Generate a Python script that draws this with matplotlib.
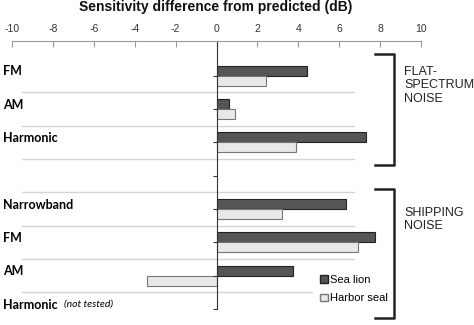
import matplotlib.pyplot as plt
import matplotlib.transforms as mtransforms
import numpy as np
from matplotlib.lines import Line2D
from matplotlib.patches import Patch

# カテゴリ（上から順）
categories = ["FM", "AM", "Harmonic", "", "Narrowband", "FM", "AM", "Harmonic"]
sea_lion = [4.42, 0.6, 7.32, np.nan, 6.34, 7.74, 3.72, np.nan]
harbor_seal = [2.41, 0.91, 3.9, np.nan, 3.2, 6.91, -3.4, np.nan]
xticks = np.arange(-10, 11, 2)

W, H = 474, 325
fig = plt.figure(figsize=(W / 100, H / 100), dpi=100)
ax = fig.add_axes([12 / W, 0, 409 / W, (H - 41) / H])

pos = np.arange(len(categories))
bh = 0.3
ax.barh(pos - bh / 2, sea_lion, height=bh, color="#555555", edgecolor="#222222", linewidth=0.8)
ax.barh(pos + bh / 2, harbor_seal, height=bh, color="#e8e8e8", edgecolor="#777777", linewidth=0.8)

ax.set_xlim(-10, 10)
ax.set_ylim(7.485, -1.04)

# 区切り線
for i in range(len(categories) - 1):
    x_end = 4.68 if i == len(categories) - 2 else 6.7
    ax.plot([-9.5, x_end], [i + 0.5, i + 0.5], color="#d4d4d4", lw=1, zorder=0)

# 上側のx軸
for s in ["bottom", "right"]:
    ax.spines[s].set_visible(False)
ax.spines["top"].set_color("#999999")
ax.spines["left"].set_position(("data", 0))
ax.spines["left"].set_bounds(-1.04, 7)
ax.spines["left"].set_color("#333333")
ax.xaxis.tick_top()
ax.set_xticks(xticks)
ax.set_xticklabels([str(t) for t in xticks], fontsize=7.5, family="Liberation Sans",
                   color="#333333")
ax.tick_params(axis="x", direction="in", length=4, color="#999999", pad=5)
ax.set_yticks(pos)
ax.set_yticklabels([])
ax.tick_params(axis="y", direction="out", length=3, color="#333333")

fig.text(216 / W, 1 - 7 / H, "Sensitivity difference from predicted (dB)", fontsize=10,
         fontweight="bold", family="Liberation Sans", ha="center", va="center",
         color="#111111")

# カテゴリラベル
lab_tr = mtransforms.blended_transform_factory(fig.transFigure, ax.transData)
for i, c in enumerate(categories):
    if c:
        fig.text(3 / W, 0, c, transform=lab_tr, fontsize=9, fontweight="bold",
                 family="Lato", va="center", ha="left").set_y(i - 0.13)
fig.text(64 / W, 0, "(not tested)", transform=lab_tr, fontsize=7.5, style="italic",
         family="Lato", va="center", ha="left").set_y(7 - 0.13)

# 凡例
handles = [Patch(facecolor="#555555", edgecolor="#222222", label="Sea lion"),
           Patch(facecolor="#e8e8e8", edgecolor="#777777", label="Harbor seal")]
fig.legend(handles=handles, loc="upper left", bbox_to_anchor=(310 / W, 1 - 265 / H),
           frameon=False, prop={"family": "Liberation Sans", "size": 8},
           handlelength=0.7, handleheight=0.7, handletextpad=0.2, labelspacing=0.75)

# 括弧
def bracket(top, bottom):
    xs = [375 / W, 394 / W, 394 / W, 375 / W]
    ys = [1 - top / H, 1 - top / H, 1 - bottom / H, 1 - bottom / H]
    fig.add_artist(Line2D(xs, ys, color="#222222", lw=1.8, solid_joinstyle="round"))

bracket(54, 165)
bracket(189, 318)
fig.text(404 / W, 1 - 66 / H, "FLAT-\nSPECTRUM\nNOISE", fontsize=9, family="Liberation Sans",
         va="top", ha="left", linespacing=1.15, color="#222222")
fig.text(404 / W, 1 - 207 / H, "SHIPPING\nNOISE", fontsize=9, family="Liberation Sans",
         va="top", ha="left", linespacing=1.15, color="#222222")

fig.savefig("out.png", dpi=100)
